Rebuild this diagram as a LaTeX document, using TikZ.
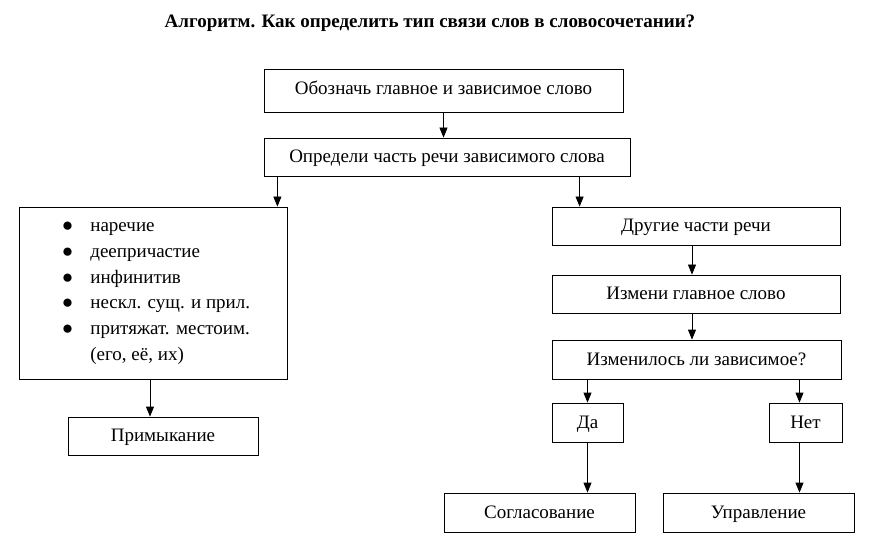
\documentclass[tikz,border=0pt]{standalone}
\usepackage{fontspec}
\setmainfont{Liberation Serif}
\usetikzlibrary{arrows.meta}
\begin{document}
\begin{tikzpicture}[x=1pt,y=-1pt,
  every node/.style={font=\fontsize{19}{22}\selectfont},
  box/.style={draw,line width=0.8pt,inner sep=0pt,minimum height=38pt,
    text height=14pt,text depth=3pt},
  arr/.style={line width=0.8pt,-{Triangle[width=8pt,length=10pt]}}]
\useasboundingbox (0,0) rectangle (873,548);
% title
\node[font=\fontsize{19}{22}\selectfont\bfseries] (title) at (430,23)
  {Алгоритм. Как определить тип связи слов в словосочетании?};

% top boxes
\node[box,minimum width=359pt,minimum height=43pt,text height=12pt,text depth=5pt]
  (mark) at (443.5,91) {Обозначь главное и зависимое слово};
\node[box,minimum width=366pt] (part) at (447,157)
  {Определи часть речи зависимого слова};

% left branch
\node[draw,line width=0.8pt,inner sep=0pt,minimum width=268pt,minimum height=172pt]
  (lst) at (153,293) {%
  \fontsize{19}{25.8}\selectfont\hspace*{6pt}%
  \begin{tabular}{@{}l@{\hspace{17pt}}l@{}}
  ● & наречие \\
  ● & деепричастие \\
  ● & инфинитив \\
  ● & нескл. сущ. и прил. \\
  ● & притяжат. местоим. \\
    & (его, её, их)\rule[-12pt]{0pt}{1pt}
  \end{tabular}};
\node[box,minimum width=190pt] (prim) at (163,436) {Примыкание};

% right branch
\node[box,minimum width=288pt] (other) at (696,226) {Другие части речи};
\node[box,minimum width=288pt] (change) at (696,294) {Измени главное слово};
\node[box,minimum width=289pt,minimum height=39pt] (quest) at (696.5,359.5)
  {Изменилось ли зависимое?};
\node[box,minimum width=71pt,minimum height=39pt] (yes) at (587.5,422.5) {Да};
\node[box,minimum width=73pt,minimum height=39pt] (no) at (805.5,422.5) {Нет};
\node[box,minimum width=191pt,minimum height=39pt] (agree) at (539.5,512.5)
  {Согласование};
\node[box,minimum width=191pt,minimum height=39pt] (gov) at (758.5,512.5)
  {Управление};

% arrows
\draw[arr] (mark.south) -- (mark.south |- part.north);
\draw[arr] ([xshift=-10pt]lst.north east |- part.south) -- ([xshift=-10pt]lst.north east);
\draw[arr] ([xshift=28pt]other.north west |- part.south) -- ([xshift=28pt]other.north west);
\draw[arr] ([xshift=-3pt]lst.south) -- ([xshift=-3pt]lst.south |- prim.north);
\draw[arr] ([xshift=-4pt]other.south) -- ([xshift=-4pt]other.south |- change.north);
\draw[arr] ([xshift=-4pt]change.south) -- ([xshift=-4pt]change.south |- quest.north);
\draw[arr] (quest.south -| yes.north) -- (yes.north);
\draw[arr] ([xshift=-6pt]no.north |- quest.south) -- ([xshift=-6pt]no.north);
\draw[arr] (yes.south) -- (yes.south |- agree.north);
\draw[arr] ([xshift=-6pt]no.south) -- ([xshift=-6pt]no.south |- gov.north);
\end{tikzpicture}
\end{document}
